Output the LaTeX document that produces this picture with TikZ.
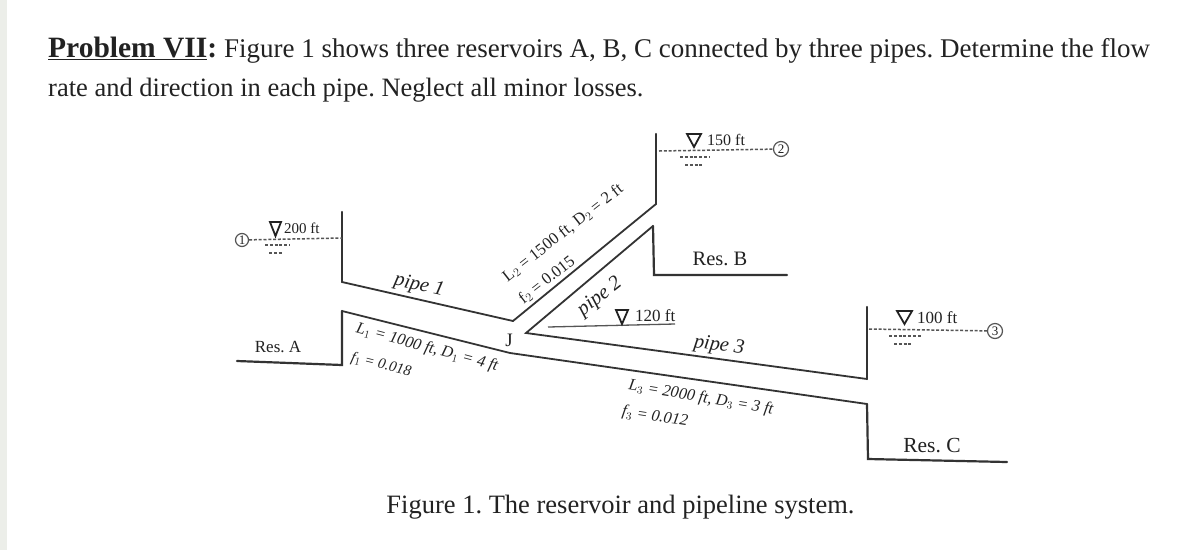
\documentclass[tikz,border=0pt]{standalone}
\usepackage{fontspec}
\setmainfont{Liberation Serif}
\usetikzlibrary{calc}
\definecolor{ink}{HTML}{222222}
\definecolor{wall}{HTML}{333333}
\definecolor{dashc}{HTML}{555555}
\definecolor{strip}{HTML}{ECEEE9}
\frenchspacing
\tikzset{
  x=1pt,y=-1pt,
  wallline/.style={draw=wall,line width=2.2pt,line cap=round,line join=miter},
  pipeline/.style={draw=wall,line width=1.8pt,line cap=round,line join=miter},
  levelline/.style={draw=dashc,line width=1.3pt},
  water/.style={draw=dashc,line width=1.5pt,dash pattern=on 3pt off 1.8pt},
  headtext/.style={inner sep=0pt,anchor=base west,text=ink,font=\fontsize{26.5}{30}\selectfont},
  smalltext/.style={inner sep=0pt,text=ink,font=\fontsize{16}{18}\selectfont},
  datatext/.style={inner sep=0pt,text=ink,font=\itshape\fontsize{16.3}{18}\selectfont},
  uprighttext/.style={inner sep=0pt,text=ink,font=\fontsize{16.5}{18}\selectfont},
  pipetext/.style={inner sep=0pt,text=ink,font=\itshape\fontsize{20.5}{22}\selectfont},
  ballnum/.style={circle,draw=dashc,line width=1.2pt,inner sep=0pt,minimum size=15pt,text=ink,font=\fontsize{13}{13}\selectfont},
  tri/.style={draw=ink,line width=1.8pt,line join=miter}
}
\begin{document}
\begin{tikzpicture}
\useasboundingbox (0,0) rectangle (1184,550);
\fill[white] (0,0) rectangle (1184,550);
\fill[strip] (0,0) rectangle (7,550);
% heading
\node[headtext,font=\fontsize{27}{30}\selectfont] (h1) at (48,57) {{\fontsize{29.5}{30}\selectfont\underline{\textbf{Problem VII}}\textbf{:}} Figure 1 shows three reservoirs A, B, C connected by three pipes. Determine the flow};
\node[headtext] (h2) at (48,96) {rate and direction in each pipe. Neglect all minor losses.};
\node[headtext,anchor=base] (cap) at (620.5,513) {Figure 1. The reservoir and pipeline system.};
% walls and pipes
\draw[wallline] (342,212) -- (342,282);
\draw[pipeline] (342,282) -- (513,321) -- (656,204);
\draw[wallline] (656,204) -- (656,134);
\draw[wallline] (237,361) -- (342,365) -- (342,311);
\draw[pipeline] (342,311) -- (510,353) -- (867,404);
\draw[wallline] (867,404) -- (868,459) -- (1007,462);
\draw[pipeline] (653,226) -- (526,333) -- (867,379);
\draw[wallline] (653,226) -- (654,275) -- (787,275);
\draw[wallline] (867,379) -- (867,307);
\draw[levelline] (548,327) -- (675,324);
% water lines
\node[ballnum,minimum size=13pt] (n1) at (242,240) {1};
\coordinate (wa) at (342,238);
\draw[water] (n1) -- (wa);
\draw[water] (265,245) -- (290,245);
\draw[water] (269,253) -- (282,253);
\node[ballnum] (n2) at (781,149) {2};
\coordinate (wb) at (659,151);
\draw[water] (wb) -- (n2);
\draw[water] (680,157) -- (710,157);
\draw[water] (685,165) -- (702,165);
\node[ballnum] (n3) at (995,331) {3};
\coordinate (wc) at (869,329);
\draw[water] (wc) -- (n3);
\draw[water] (889,336) -- (922,336);
\draw[water] (894,344) -- (913,344);
% triangles
\draw[tri] (270,222) -- (281,222) -- (275.5,236) -- cycle;
\draw[tri] (687,134) -- (701,134) -- (694,147) -- cycle;
\draw[tri] (897,311) -- (912,311) -- (904.5,324) -- cycle;
\draw[tri] (616,310) -- (628,310) -- (622,324) -- cycle;
% levels
\node[smalltext,anchor=west,font=\fontsize{15}{18}\selectfont] (la) at (284,228) {200 ft};
\node[smalltext,anchor=west] (lb) at (707,140) {150 ft};
\node[smalltext,anchor=west,font=\fontsize{17}{18}\selectfont] (lc) at (917,318) {100 ft};
\node[smalltext,anchor=west,font=\fontsize{17}{18}\selectfont] (ld) at (635,316) {120 ft};
% labels
\node[inner sep=0pt,text=ink,font=\fontsize{17}{20}\selectfont] (ra) at (278,347) {Res. A};
\node[inner sep=0pt,text=ink,font=\fontsize{20.5}{22}\selectfont] (rb) at (720,259) {Res. B};
\node[inner sep=0pt,text=ink,font=\fontsize{21.5}{24}\selectfont] (rc) at (932,446) {Res. C};
\node[inner sep=0pt,text=ink,font=\fontsize{19}{20}\selectfont] (j) at (509,340) {J};
\node[pipetext,rotate=-13] (p1) at (419,286) {pipe 1};
\node[pipetext,rotate=38] (p2) at (600,297) {pipe 2};
\node[pipetext,rotate=-8] (p3) at (719,346) {pipe 3};
\node[datatext,rotate=-15] (d1) at (427,348) {L$_1$ = 1000 ft, D$_1$ = 4 ft};
\node[datatext,font=\itshape\fontsize{15}{16}\selectfont,rotate=-14] (d1b) at (381,365) {f$_1$ = 0.018};
\node[uprighttext,rotate=38] (d2) at (563,233) {L$_2$ = 1500 ft, D$_2$ = 2 ft};
\node[uprighttext,rotate=38] (d2b) at (547,280) {f$_2$ = 0.015};
\node[datatext,rotate=-9.5] (d3) at (701,398) {L$_3$ = 2000 ft, D$_3$ = 3 ft};
\node[datatext,rotate=-9] (d3b) at (655,417) {f$_3$ = 0.012};
\end{tikzpicture}
\end{document}
